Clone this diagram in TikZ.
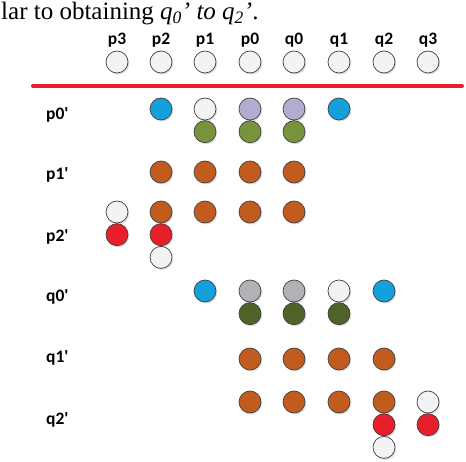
\documentclass[tikz,border=0pt]{standalone}
\usepackage{fontspec}
\setmainfont{Liberation Serif}
\newfontfamily\labelfont{Carlito}
\usetikzlibrary{positioning, shadows}

\definecolor{beadblue}{RGB}{20,160,220}
\definecolor{beadwhite}{RGB}{243,243,243}
\definecolor{beadlilac}{RGB}{180,172,206}
\definecolor{beadgreen}{RGB}{119,147,60}
\definecolor{beaddark}{RGB}{79,98,40}
\definecolor{beadorange}{RGB}{193,92,30}
\definecolor{beadred}{RGB}{232,30,42}
\definecolor{beadgray}{RGB}{178,178,182}

\begin{document}
\begin{tikzpicture}[x=1pt, y=-1pt,
				Bead/.style={circle, draw=black!75, line width=0.7pt, inner sep=0pt, minimum size=22pt,
					drop shadow={shadow xshift=1.2pt, shadow yshift=-1.5pt, opacity=0.3, fill=black!45}},
				ColLabel/.style={font=\labelfont\bfseries\fontsize{17.5}{17.5}\selectfont},
				RowLabel/.style={font=\labelfont\bfseries\fontsize{17.5}{17.5}\selectfont, anchor=west, inner sep=0pt}]

			\useasboundingbox (0,0) rectangle (466,462);

			% Caption
			\node[anchor=base west, inner sep=0pt, font=\fontsize{25}{25}\selectfont] (Caption) at (1,20)
				{lar to obtaining \textit{q\textsubscript{0}’ to q\textsubscript{2}’}.};

			% Header
			\foreach \name/\x in {p3/117, p2/161, p1/205, p0/250, q0/294, q1/339, q2/384, q3/428} {
				\node[Bead, fill=beadwhite] (H\name) at (\x,62) {};
				\node[ColLabel] (L\name) at (\x,40) {\name};
			}

			\draw[line width=4pt, line cap=round, beadred] (33,86) -- (462,86);

			% Row labels
			\node[RowLabel] (Rp0) at (46,115) {p0'};
			\node[RowLabel] (Rp1) at (46,175) {p1'};
			\node[RowLabel] (Rp2) at (46,237) {p2'};
			\node[RowLabel] (Rq0) at (46,297) {q0'};
			\node[RowLabel] (Rq1) at (46,358) {q1'};
			\node[RowLabel] (Rq2) at (46,420) {q2'};

			% p0'
			\node[Bead, fill=beadblue] (A2) at (161,109) {};
			\node[Bead, fill=beadwhite] (A1) at (205,109) {};
			\node[Bead, fill=beadgreen, below=0pt of A1] (A1b) {};
			\node[Bead, fill=beadlilac] (A0) at (250,109) {};
			\node[Bead, fill=beadgreen, below=0pt of A0] (A0b) {};
			\node[Bead, fill=beadlilac] (Aq0) at (294,109) {};
			\node[Bead, fill=beadgreen, below=0pt of Aq0] (Aq0b) {};
			\node[Bead, fill=beadblue] (Aq1) at (339,109) {};

			% p1'
			\foreach \x [count=\i] in {161, 205, 250, 294}
				\node[Bead, fill=beadorange] (B\i) at (\x,172) {};

			% p2'
			\node[Bead, fill=beadwhite] (C3) at (117,212) {};
			\node[Bead, fill=beadred, below=0pt of C3] (C3b) {};
			\node[Bead, fill=beadorange] (C2) at (161,212) {};
			\node[Bead, fill=beadred, below=0pt of C2] (C2b) {};
			\node[Bead, fill=beadwhite, below=0pt of C2b] (C2c) {};
			\foreach \x [count=\i] in {205, 250, 294}
				\node[Bead, fill=beadorange] (C\i) at (\x,212) {};

			% q0'
			\node[Bead, fill=beadblue] (D1) at (205,291) {};
			\node[Bead, fill=beadgray] (D0) at (250,291) {};
			\node[Bead, fill=beaddark, below=0pt of D0] (D0b) {};
			\node[Bead, fill=beadgray] (Dq0) at (294,291) {};
			\node[Bead, fill=beaddark, below=0pt of Dq0] (Dq0b) {};
			\node[Bead, fill=beadwhite] (Dq1) at (339,291) {};
			\node[Bead, fill=beaddark, below=0pt of Dq1] (Dq1b) {};
			\node[Bead, fill=beadblue] (Dq2) at (384,291) {};

			% q1'
			\foreach \x [count=\i] in {250, 294, 339, 384}
				\node[Bead, fill=beadorange] (E\i) at (\x,359) {};

			% q2'
			\foreach \x [count=\i] in {250, 294, 339}
				\node[Bead, fill=beadorange] (F\i) at (\x,402) {};
			\node[Bead, fill=beadorange] (Fq2) at (384,402) {};
			\node[Bead, fill=beadred, below=0pt of Fq2] (Fq2b) {};
			\node[Bead, fill=beadwhite, below=0pt of Fq2b] (Fq2c) {};
			\node[Bead, fill=beadwhite] (Fq3) at (428,402) {};
			\node[Bead, fill=beadred, below=0pt of Fq3] (Fq3b) {};
		\end{tikzpicture}
\end{document}
